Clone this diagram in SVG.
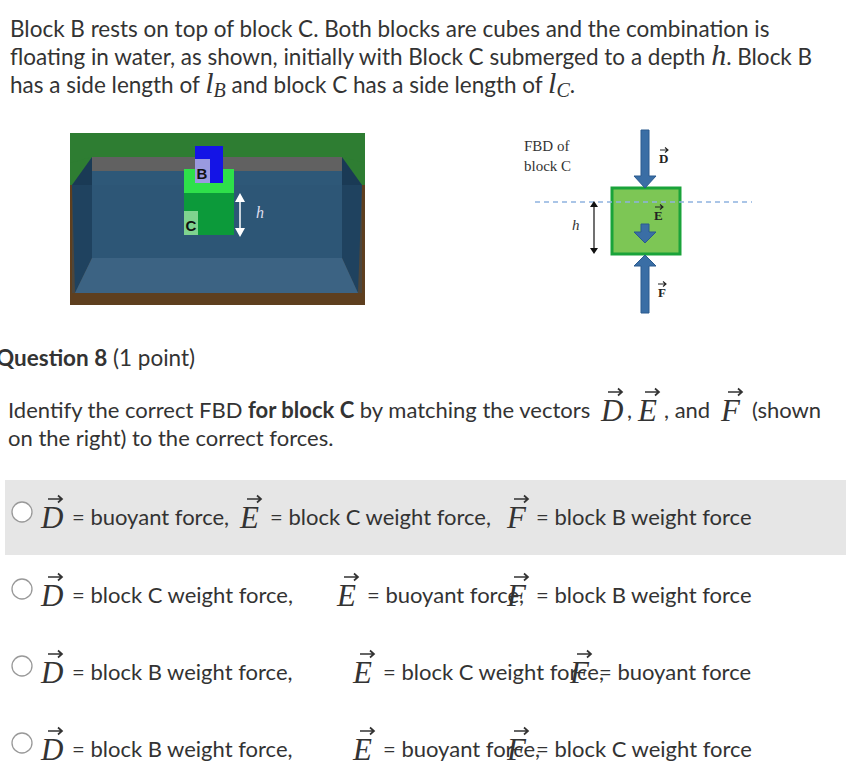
<svg xmlns="http://www.w3.org/2000/svg" width="859" height="780" viewBox="0 0 859 780">
<style>
.t{font-family:Lato,"Noto Sans","Liberation Sans",sans-serif;font-size:22.5px;fill:#333}
.o{font-family:Lato,"Noto Sans","Liberation Sans",sans-serif;font-size:22px;fill:#333}
.m{font-family:"Liberation Serif","DejaVu Serif",serif;font-style:italic;fill:#333}
.v{font-family:"Liberation Serif","DejaVu Serif",serif;font-style:italic;font-size:31px;fill:#333}
.s{font-family:"Liberation Serif","DejaVu Serif",serif;font-size:15px;fill:#333}
.bv{font-family:"Liberation Serif","DejaVu Serif",serif;font-weight:bold;font-size:13px;fill:#222}
.rad{fill:#fff;stroke:#999;stroke-width:1.3}
.blue{fill:#3a6ea5;stroke:#2a5a8f;stroke-width:1}
</style>
<defs>
<g id="va"><path d="M0 0h14M10 -3.5L14 0L10 3.5" fill="none" stroke="#333" stroke-width="1.7"/></g>
<g id="sa"><path d="M0 0h8M5 -2.5L8 0L5 2.5" fill="none" stroke="#222" stroke-width="1.1"/></g>
</defs>
<rect width="859" height="780" fill="#fff"/>
<g id="intro">
<text class="t" x="10" y="37">Block B rests on top of block C. Both blocks are cubes and the combination is</text>
<text class="t" x="10" y="65">floating in water, as shown, initially with Block C submerged to a depth <tspan class="m" font-size="30">h</tspan>. Block B</text>
<text class="t" x="10" y="93">has a side length of <tspan class="m" font-size="30">l</tspan><tspan class="m" font-size="20" dy="4">B</tspan><tspan dy="-4"> and block C has a side length of </tspan><tspan class="m" font-size="30">l</tspan><tspan class="m" font-size="20" dy="4">C</tspan><tspan dy="-4">.</tspan></text>
</g>
<g id="tank">
<rect x="70" y="133" width="295" height="172" fill="#5e3f1f"/>
<rect x="70" y="133" width="295" height="30" fill="#2e7d32"/>
<polygon points="70,163 92,157 92,185 70,185" fill="#2e7d32"/>
<polygon points="365,163 342,157 342,185 365,185" fill="#2e7d32"/>
<rect x="92" y="157" width="250" height="14" fill="#616161"/>
<polygon points="72,185 92,157 92,258 75,293" fill="#1a3a55"/>
<polygon points="362,185 342,157 342,258 358,293" fill="#1a3a55"/>
<rect x="92" y="171" width="250" height="87" fill="#2e5878"/>
<polygon points="92,258 342,258 358,293 75,293" fill="#456c8c"/>
<rect x="72" y="185" width="290" height="108" fill="#2b5374" opacity="0.35"/>
</g>
<g id="blockC">
<rect x="184" y="169" width="50" height="24" fill="#2ee04a"/>
<rect x="184" y="193" width="50" height="42" fill="#0c9a3a"/>
<rect x="184" y="211" width="14" height="24" fill="#7fd38f"/>
<text x="191" y="231" text-anchor="middle" font-family="Liberation Sans,sans-serif" font-weight="bold" font-size="15" fill="#111">C</text>
</g>
<g id="blockB">
<rect x="195" y="146" width="28" height="37" fill="#1414e6"/>
<rect x="195" y="159" width="15" height="24" fill="#9a9ae0"/>
<text x="202" y="179" text-anchor="middle" font-family="Liberation Sans,sans-serif" font-weight="bold" font-size="15" fill="#111">B</text>
</g>
<g id="tank-h">
<path d="M240 197V232" stroke="#fff" stroke-width="1.5"/>
<path d="M235 202L240 193L245 202Z M235 228L240 237L245 228Z" fill="#fff"/>
<text x="256" y="218" class="m" font-size="16" style="fill:#dde">h</text>
</g>
<g id="fbd">
<text class="s" x="524" y="151">FBD of</text>
<text class="s" x="524" y="171">block C</text>
<rect x="612" y="188" width="68" height="66" fill="#7dc655" stroke="#1aa33a" stroke-width="3"/>
<line x1="535" y1="202" x2="752" y2="202" stroke="#8fb3e0" stroke-width="1.5" stroke-dasharray="5,4"/>
<polygon class="blue" points="641,130 649,130 649,176 656,176 645,188 634,176 641,176"/>
<polygon class="blue" points="641,224 649,224 649,232 656,232 645,243 634,232 641,232"/>
<polygon class="blue" points="641,313 649,313 649,266 656,266 645,255 634,266 641,266"/>
<path d="M594 207V248" stroke="#111" stroke-width="1.2"/>
<path d="M590 207L594 201L598 207Z M590 248L594 254L598 248Z" fill="#111"/>
<text x="572" y="230" class="m" font-size="15">h</text>
<text class="bv" x="659" y="163">D</text><use href="#sa" x="660" y="150"/>
<text class="bv" x="654" y="220">E</text><use href="#sa" x="655" y="207"/>
<text class="bv" x="658" y="297">F</text><use href="#sa" x="658" y="284"/>
</g>
<g id="question">
<text class="t" x="-4" y="366"><tspan font-weight="bold">Question 8</tspan> (1 point)</text>
<text class="o" x="8" y="418">Identify the correct FBD <tspan font-weight="bold">for block C</tspan> by matching the vectors</text>
<text class="v" x="601" y="421">D</text><use href="#va" x="608" y="392"/>
<text class="o" x="627" y="418">,</text>
<text class="v" x="638" y="421">E</text><use href="#va" x="645" y="392"/>
<text class="o" x="664" y="418">, and</text>
<text class="v" x="721" y="421">F</text><use href="#va" x="728" y="392"/>
<text class="o" x="752" y="418">(shown</text>
<text class="o" x="8" y="446">on the right) to the correct forces.</text>
</g>
<g id="opt1">
<rect x="5" y="480" width="841" height="75" fill="#e6e6e6"/>
<circle class="rad" cx="22" cy="512" r="10"/>
<text class="v" x="41" y="528">D</text><use href="#va" x="48" y="499"/>
<text class="o" x="72" y="525">= buoyant force,</text>
<text class="v" x="240" y="528">E</text><use href="#va" x="247" y="499"/>
<text class="o" x="270" y="525">= block C weight force,</text>
<text class="v" x="507" y="528">F</text><use href="#va" x="514" y="499"/>
<text class="o" x="536" y="525">= block B weight force</text>
</g>
<g id="opt2">
<circle class="rad" cx="22" cy="589" r="10"/>
<text class="v" x="41" y="606">D</text><use href="#va" x="48" y="577"/>
<text class="o" x="72" y="603">= block C weight force,</text>
<text class="v" x="337" y="606">E</text><use href="#va" x="344" y="577"/>
<text class="o" x="367" y="603">= buoyant force,</text>
<text class="v" x="507" y="606">F</text><use href="#va" x="514" y="577"/>
<text class="o" x="536" y="603">= block B weight force</text>
</g>
<g id="opt3">
<circle class="rad" cx="22" cy="666" r="10"/>
<text class="v" x="41" y="683">D</text><use href="#va" x="48" y="654"/>
<text class="o" x="72" y="680">= block B weight force,</text>
<text class="v" x="353" y="683">E</text><use href="#va" x="360" y="654"/>
<text class="o" x="383" y="680">= block C weight force,</text>
<text class="v" x="570" y="683">F</text><use href="#va" x="577" y="654"/>
<text class="o" x="599" y="680">= buoyant force</text>
</g>
<g id="opt4">
<circle class="rad" cx="22" cy="743" r="10"/>
<text class="v" x="41" y="760">D</text><use href="#va" x="48" y="731"/>
<text class="o" x="72" y="757">= block B weight force,</text>
<text class="v" x="353" y="760">E</text><use href="#va" x="360" y="731"/>
<text class="o" x="383" y="757">= buoyant force,</text>
<text class="v" x="507" y="760">F</text><use href="#va" x="514" y="731"/>
<text class="o" x="536" y="757">= block C weight force</text>
</g>
</svg>
